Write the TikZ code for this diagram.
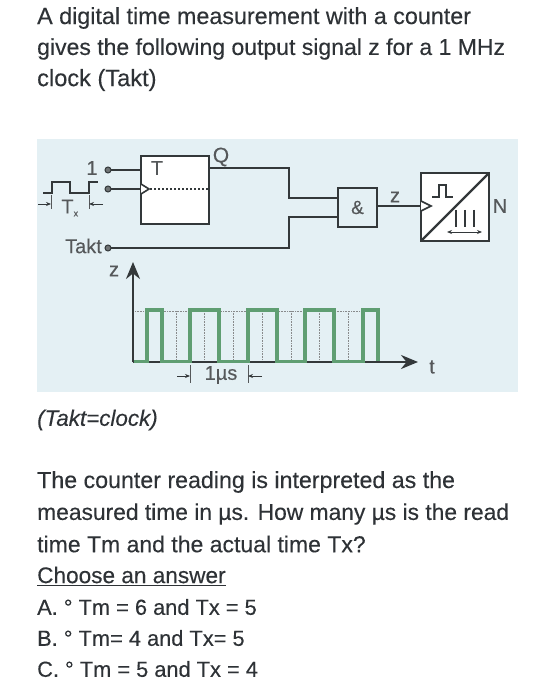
\documentclass[tikz,border=0pt]{standalone}
\usepackage{fontspec}
\setmainfont[FakeBold=0.25]{Liberation Sans}
\usetikzlibrary{arrows.meta}
\definecolor{panel}{HTML}{E4F0F4}
\definecolor{ink}{HTML}{2E3236}
\definecolor{wire}{HTML}{33383A}
\definecolor{lab}{HTML}{55585A}
\definecolor{sig}{HTML}{5F9E72}
\tikzset{
 qtext/.style={anchor=west,inner sep=0pt,text=ink,font=\fontsize{23}{26}\selectfont},
 anstext/.style={qtext,font=\fontsize{21.8}{26}\selectfont},
 lbl/.style={inner sep=0pt,text=lab,font=\fontsize{20}{22}\selectfont},
 wireline/.style={draw=wire,line width=2.4pt},
 blockbox/.style={draw=wire,line width=2.8pt,fill=white,inner sep=0pt,outer sep=0pt},
 term/.style={circle,draw=wire,fill=wire!70,minimum size=6pt,inner sep=0pt,outer sep=0pt,line width=1pt},
 tipclock/.style={draw=wire,line width=1.6pt,fill=white},
 dim/.style={draw=wire,line width=0.8pt,-{Stealth[length=5pt,width=4pt]}},
 guide/.style={draw=lab!70,line width=0.6pt,densely dotted},
 axisline/.style={draw=wire,line width=2.4pt,-{Stealth[length=17pt,width=14pt]}},
 green/.style={draw=sig,line width=3.6pt,line join=miter}
}
\begin{document}
\begin{tikzpicture}[x=1pt,y=-1pt]
\useasboundingbox (0,0) rectangle (554,700);
\fill[white] (0,0) rectangle (554,700);
\fill[panel] (37,139) rectangle (518,392);
% question text
\node[qtext,font=\fontsize{23.3}{26}\selectfont] (l1) at (37,18) {A digital time measurement with a counter};
\node[qtext] (l2) at (37,49) {gives the following output signal z for a 1 MHz};
\node[qtext,font=\fontsize{23.6}{26}\selectfont] (l3) at (37,80) {clock (Takt)};
\node[qtext,font=\fontsize{22.4}{26}\selectfont\itshape] (l4) at (37,420) {(Takt=clock)};
\node[qtext,font=\fontsize{23.2}{26}\selectfont] (l5) at (37,482) {The counter reading is interpreted as the};
\node[qtext,font=\fontsize{22.8}{26}\selectfont] (l6) at (37,514) {measured time in µs. How many µs is the read};
\node[qtext] (l7) at (37,544) {time Tm and the actual time Tx?};
\node[qtext,font=\fontsize{22.6}{26}\selectfont] (l8) at (37,576) {\underline{Choose an answer}};
\node[anstext] (l9) at (37,607) {A. ° Tm = 6 and Tx = 5};
\node[anstext] (l10) at (37,638) {B. ° Tm= 4 and Tx= 5};
\node[anstext] (l11) at (37,669) {C. ° Tm = 5 and Tx = 4};
% blocks
\node[blockbox,minimum width=68pt,minimum height=68pt] (ff) at (175,190) {};
\node[blockbox,fill=panel,minimum width=39pt,minimum height=39pt,text=lab,font=\fontsize{19}{21}\selectfont] (andg) at (357.5,207.5) {\&};
\node[blockbox,minimum width=68pt,minimum height=68pt] (cnt) at (455,207) {};
% terminals
\node[term] (t1) at (108,170) {};
\node[term] (tc) at (108,189) {};
\node[term] (tk) at (108,248) {};
\coordinate (ffone) at (ff.west |- t1);
\coordinate (ffclk) at (ff.west |- tc);
\coordinate (ffq) at (ff.east |- 0,168);
\coordinate (q1) at (289,168);
\coordinate (q2) at (289,198);
\coordinate (a1) at (andg.west |- q2);
\coordinate (k1) at (289,248);
\coordinate (k2) at (289,217);
\coordinate (a2) at (andg.west |- k2);
\coordinate (cntin) at (cnt.west |- 0,206);
\coordinate (andout) at (andg.east |- 0,206);
\draw[wireline] (t1) -- (ffone);
\draw[wireline] (tc) -- (ffclk);
\draw[wireline] (ffq) -- (q1) -- (q2) -- (a1);
\draw[wireline] (tk) -- (k1) -- (k2) -- (a2);
\draw[wireline] (andout) -- (cntin);
% flip-flop details
\draw[tipclock] (141,184) -- (149,189) -- (141,194);
\draw[draw=wire,line width=1.8pt,dash pattern=on 2pt off 2pt] (150,189) -- (208,189);
\node[lbl] (ft) at (157,168) {T};
\node[lbl,font=\fontsize{21}{23}\selectfont] (q) at (221,157) {Q};
\node[lbl] (one) at (92,168) {1};
\node[lbl,anchor=east] (takt) at (102,246) {Takt};
% input waveform
\draw[draw=wire,line width=2pt] (43,193) -- (52,193) -- (52,182) -- (70,182) -- (70,193) -- (89,193) -- (89,182) -- (98,182);
\draw[draw=lab,line width=0.6pt] (51,195) -- (51,209) (89,195) -- (89,209);
\draw[dim] (38,204) -- (51,204);
\draw[dim] (103,204) -- (89,204);
\node[lbl] (tx) at (70,208) {T\textsubscript{\fontsize{9}{10}\selectfont x}};
% counter details
\draw[wireline] (cnt.south west) -- (cnt.north east);
\draw[tipclock] (421,201) -- (431,206) -- (421,211);
\draw[draw=wire,line width=1.8pt] (432,197) -- (439,197) -- (439,185) -- (446,185) -- (446,197) -- (453,197);
\draw[draw=wire,line width=1.8pt] (456,210) -- (456,227) (465,210) -- (465,227) (474,210) -- (474,227);
\draw[draw=wire,line width=0.8pt,{Stealth[length=5pt,width=4pt]}-{Stealth[length=5pt,width=4pt]}] (447,232) -- (482,232);
\node[lbl] (zl) at (395,197) {z};
\node[lbl] (nl) at (500,206) {N};
% timing diagram
\draw[guide] (135,311) -- (363,311);
\foreach \x in {176,204,233,262,291,319,348} \draw[guide] (\x,311) -- (\x,362);
\coordinate (org) at (133,362);
\coordinate (zt) at (133,262);
\coordinate (tt) at (418,362);
\draw[axisline] (org) -- (zt);
\draw[axisline] (org) -- (tt);
\draw[green] (134,361.5) -- (147,361.5) -- (147,310) -- (162,310) -- (162,361.5) -- (190,361.5) -- (190,310) -- (219,310) -- (219,361.5) -- (248,361.5) -- (248,310) -- (277,310) -- (277,361.5) -- (305,361.5) -- (305,310) -- (334,310) -- (334,361.5) -- (363,361.5) -- (363,310) -- (378,310) -- (378,361);
\node[lbl] (zax) at (114,271) {z};
\node[lbl] (tax) at (432,367) {t};
\node[lbl] (us) at (221,375) {1µs};
\draw[draw=lab,line width=0.6pt] (190,365) -- (190,383) (248,365) -- (248,383);
\draw[dim] (177,376) -- (190,376);
\draw[dim] (262,376) -- (248,376);
\end{tikzpicture}
\end{document}
